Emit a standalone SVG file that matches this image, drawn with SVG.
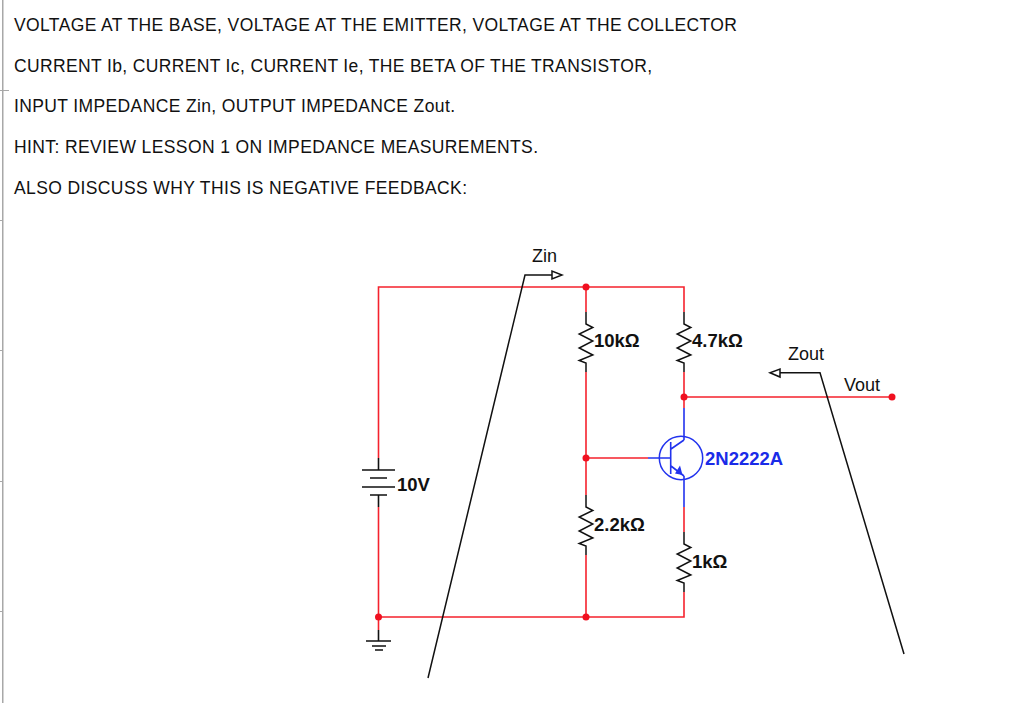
<svg xmlns="http://www.w3.org/2000/svg" width="1024" height="703" viewBox="0 0 1024 703">
<style>
text{font-family:"Liberation Sans",Arial,sans-serif;fill:#111}
.t{font-size:17.500px}
.l{font-size:18px}
.b{font-size:18.500px;font-weight:bold}
.w{fill:none;stroke-width:1.600}
.r{stroke:#f5222d}
.k{stroke:#111}
.u{stroke:#2233ee}
.n{fill:none;stroke:#111;stroke-width:1.500}
.j{fill:#f01020}
</style>
<defs>
<path id="zig" class="n" d="M0 0V12L6.800 15.500L-6.800 22L6.800 29L-6.800 36L6.800 43L-6.800 48.500L0 51V60"/>
</defs>
<rect width="1024" height="703" fill="#fff"/>
<g id="page-edge" fill="#a8a8a8">
<rect x="2" y="0" width="1.500" height="703"/>
<rect x="0" y="90" width="9" height="1"/><rect x="0" y="220" width="3" height="1"/><rect x="0" y="350" width="3" height="1"/><rect x="0" y="481" width="3" height="1"/><rect x="0" y="611" width="3" height="1"/>
</g>
<g id="question">
<text class="t" x="14" y="30.500" textLength="723">VOLTAGE AT THE BASE, VOLTAGE AT THE EMITTER, VOLTAGE AT THE COLLECTOR</text>
<text class="t" x="14" y="71.500" textLength="638">CURRENT Ib, CURRENT Ic, CURRENT Ie, THE BETA OF THE TRANSISTOR,</text>
<text class="t" x="14" y="112" textLength="441">INPUT IMPEDANCE Zin, OUTPUT IMPEDANCE Zout.</text>
<text class="t" x="14" y="152.500" textLength="524">HINT: REVIEW LESSON 1 ON IMPEDANCE MEASUREMENTS.</text>
<text class="t" x="14" y="193.500" textLength="453">ALSO DISCUSS WHY THIS IS NEGATIVE FEEDBACK:</text>
</g>
<g id="connectors">
<path class="w r" d="M378.500 458V287H684V312M586 287V312M586 372V495M586 555V617M378.500 507V630M378.500 617H684V592M684 372V408M684 397H892M586 458H648M684 507V532"/>
<path class="w u" d="M684 408V440M648 458H671M684 476V507"/>
<path class="w k" d="M378.500 458V470M378.500 495V507M378.500 630V641"/>
</g>
<g id="junctions">
<circle class="j" cx="586" cy="287" r="3.500"/><circle class="j" cx="684" cy="397" r="3.500"/><circle class="j" cx="892" cy="397" r="3.500"/><circle class="j" cx="586" cy="458" r="3.500"/><circle class="j" cx="378.500" cy="617" r="3.500"/><circle class="j" cx="586" cy="617" r="3.500"/>
</g>
<g id="r10k"><use href="#zig" x="586" y="312"/><text class="b" x="594" y="347">10kΩ</text></g>
<g id="r4k7"><use href="#zig" x="684" y="312"/><text class="b" x="692" y="347">4.7kΩ</text></g>
<g id="r2k2"><use href="#zig" x="586" y="495"/><text class="b" x="594" y="531">2.2kΩ</text></g>
<g id="r1k"><use href="#zig" x="684" y="532"/><text class="b" x="692" y="568">1kΩ</text></g>
<g id="battery"><path class="n" d="M362 470H395M370 478H387M362 487H395M370 495H387"/><text class="b" x="397" y="491">10V</text></g>
<g id="ground"><path class="n" d="M366 641H391M372 646H386M375 650H383"/></g>
<g id="q1">
<circle cx="681" cy="458" r="21.700" fill="none" stroke="#2233ee" stroke-width="1.500"/>
<path class="w u" d="M670.700 442V474M671 449L684 440M671 466L684 476"/>
<path d="M675 473.500L680 465.500L682.500 475Z" fill="#2233ee"/>
<text class="b" x="705" y="464.500" style="fill:#1a2be8">2N2222A</text>
</g>
<g id="zin"><path class="n" d="M428 678L525 275H552"/><path class="n" d="M552 271V279L562 275Z"/><text class="l" x="532" y="261.500">Zin</text></g>
<g id="zout"><path class="n" d="M904 654L820 372.700H780"/><path class="n" d="M780 369V377L770 372.700Z"/><text class="l" x="788" y="359.500">Zout</text></g>
<g id="vout"><text class="l" x="844" y="390.500">Vout</text></g>
</svg>
